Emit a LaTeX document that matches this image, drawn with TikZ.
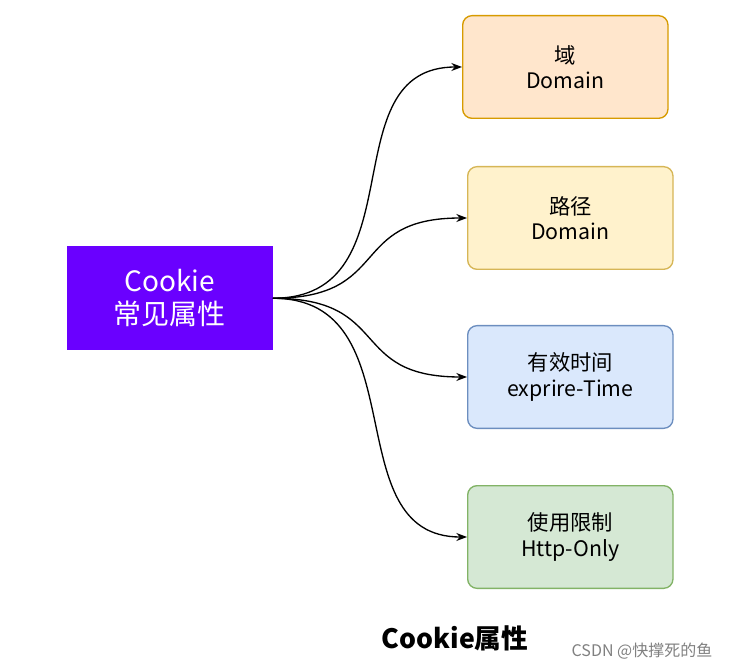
\documentclass[tikz,border=0pt]{standalone}
\usepackage{fontspec}
\usetikzlibrary{arrows.meta}
\setmainfont{Noto Sans CJK SC}
\begin{document}
\begin{tikzpicture}[x=0.75pt,y=-0.75pt,
  box/.style={draw,rounded corners=7pt,line width=1pt,minimum width=154pt,minimum height=77pt,align=center,font=\fontsize{16}{19}\selectfont,anchor=north west},
  conn/.style={-{Stealth[length=8pt]},line width=1pt}]
\useasboundingbox (0,0) rectangle (739,670);
\node[fill={rgb,255:red,106;green,0;blue,255},minimum width=154pt,minimum height=78pt,anchor=north west,inner sep=0,text=white,align=center,font=\fontsize{21}{25}\selectfont] (m) at (67,246) {Cookie\\常见属性};
\node[box,fill={rgb,255:red,255;green,230;blue,204},draw={rgb,255:red,215;green,155;blue,0}] (a) at (462,15) {域\\Domain};
\node[box,fill={rgb,255:red,255;green,242;blue,204},draw={rgb,255:red,214;green,182;blue,86}] (b) at (467,166) {路径\\Domain};
\node[box,fill={rgb,255:red,218;green,232;blue,252},draw={rgb,255:red,108;green,142;blue,191}] (c) at (467,325) {有效时间\\exprire-Time};
\node[box,fill={rgb,255:red,213;green,232;blue,212},draw={rgb,255:red,130;green,179;blue,102}] (d) at (467,485) {使用限制\\Http-Only};
\draw[conn] (m.east) .. controls +(110pt,0) and +(-100pt,0) .. (a.west);
\draw[conn] (m.east) .. controls +(90pt,0) and +(-90pt,0) .. (b.west);
\draw[conn] (m.east) .. controls +(90pt,0) and +(-90pt,0) .. (c.west);
\draw[conn] (m.east) .. controls +(110pt,0) and +(-100pt,0) .. (d.west);
\node[font=\bfseries\fontsize{20}{24}\selectfont] (t) at (455,638) {Cookie属性};
\node[font=\fontsize{12}{14}\selectfont,text=gray] (w) at (642,651) {CSDN @快撑死的鱼};
\end{tikzpicture}
\end{document}
